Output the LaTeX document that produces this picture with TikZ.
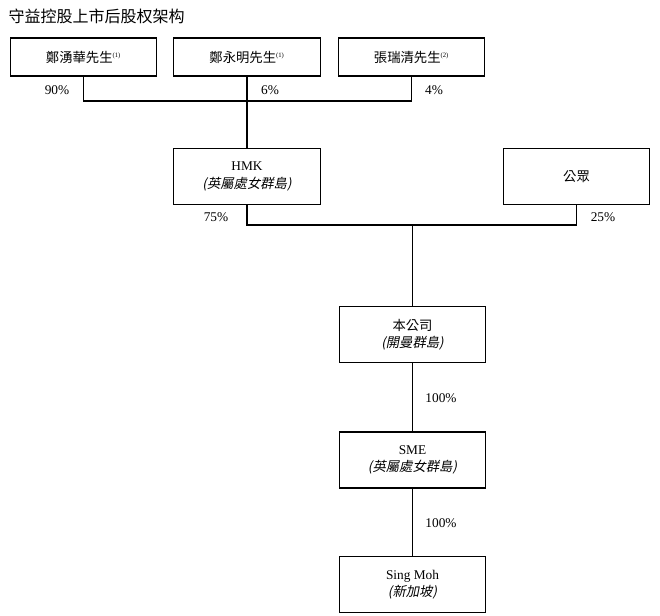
\documentclass[tikz,border=0pt]{standalone}
\usepackage{fontspec}
\setmainfont{Liberation Serif}
\newfontfamily\cjk{Noto Sans CJK TC}
\newfontfamily\cjki[FakeSlant=0.2]{Noto Sans CJK TC}
\newfontfamily\cjksc{Noto Sans CJK SC}
\begin{document}
\begin{tikzpicture}[x=0.75pt,y=-0.75pt,
  box/.style={draw,line width=0.8pt,minimum width=110pt,align=center,font=\fontsize{10}{13}\selectfont},
  sm/.style={minimum height=28.5pt},
  lg/.style={minimum height=42pt},
  pct/.style={font=\fontsize{10}{12}\selectfont},
  ln/.style={line width=0.8pt}]
\useasboundingbox (0,0) rectangle (660,616);
\node[anchor=west,font=\cjksc\fontsize{12}{14}\selectfont] (title) at (4,16) {守益控股上市后股权架构};
\node[box,sm] (a) at (83.5,57) {{\cjk 鄭湧華先生}\textsuperscript{\tiny(1)}};
\node[box,sm] (b) at (247,57) {{\cjk 鄭永明先生}\textsuperscript{\tiny(1)}};
\node[box,sm] (c) at (411.5,57) {{\cjk 張瑞清先生}\textsuperscript{\tiny(2)}};
\node[box,lg] (hmk) at (247,176.5) {HMK\\{\cjki (英屬處女群島)}};
\node[box,lg] (pub) at (576.5,176.5) {\cjk 公眾};
\node[box,lg] (co) at (412.5,334.5) {{\cjk 本公司}\\{\cjki (開曼群島)}};
\node[box,lg] (sme) at (412.5,460) {SME\\{\cjki (英屬處女群島)}};
\node[box,lg] (sm) at (412.5,584.5) {Sing Moh\\{\cjki (新加坡)}};
\coordinate (j1) at (247,101);
\coordinate (j2) at (412.5,225);
\draw[ln] (a.south) |- (j1) -| (c.south);
\draw[ln] (b.south) -- (hmk.north);
\draw[ln] (hmk.south) |- (j2) -| (pub.south);
\draw[ln] (j2) -- (co.north);
\draw[ln] (co.south) -- (sme.north);
\draw[ln] (sme.south) -- (sm.north);
\node[pct] (p1) at (57,90) {90\%};
\node[pct] (p2) at (270,90) {6\%};
\node[pct] (p3) at (434,90) {4\%};
\node[pct] (p4) at (216,217) {75\%};
\node[pct] (p5) at (603,217) {25\%};
\node[pct] (p6) at (441,398) {100\%};
\node[pct] (p7) at (441,523) {100\%};
\end{tikzpicture}
\end{document}
